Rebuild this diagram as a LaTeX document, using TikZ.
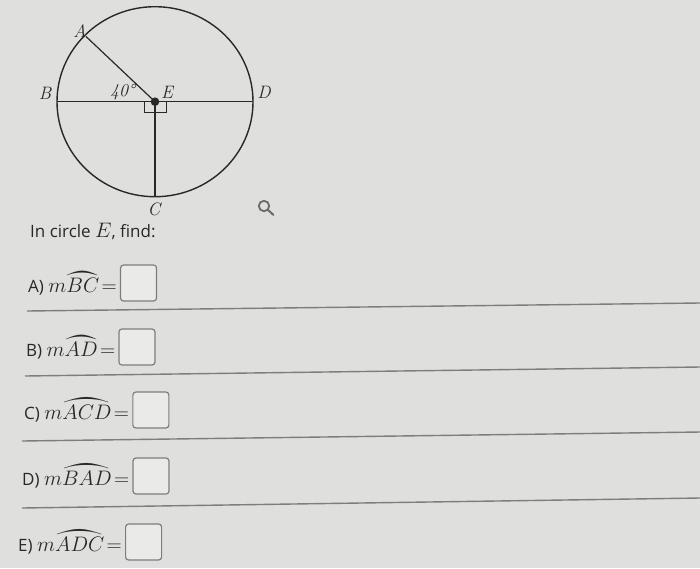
\RequirePackage{fix-cm}
\documentclass[tikz,border=0pt]{standalone}
\usepackage{amsmath}
\usepackage{yhmath}
\usepackage{fontspec}
\setsansfont{Open Sans}
\usepackage{xcolor}
\usepackage{tikz}
\usetikzlibrary{positioning}
\definecolor{paper}{RGB}{223,223,221}
\definecolor{ink}{RGB}{40,40,40}
\definecolor{rulegray}{RGB}{125,125,125}
\tikzset{ptlabel/.style={font=\fontsize{18}{20}\selectfont\itshape,text=ink,inner sep=0pt},
  rowlabel/.style={font=\sffamily\fontsize{17}{20}\selectfont,text=ink,inner sep=0pt,anchor=west},
  ansbox/.style={draw=rulegray,fill=white!35!paper,rounded corners=3pt,line width=1.2pt,inner sep=0pt,minimum size=36pt}}
\newcommand{\bigmath}[1]{{\fontsize{21}{24}\selectfont$#1$}}

\begin{document}
\begin{tikzpicture}[x=1pt,y=-1pt]
    \fill[paper] (0,0) rectangle (700,568);
    \useasboundingbox (0,0) rectangle (700,568);

    \coordinate (cE) at (155,101.7);
    \coordinate (ptA) at (86,36.5);
    \coordinate (ptB) at (57,101.7);
    \coordinate (ptC) at (155,196.7);
    \coordinate (ptD) at (253,101.7);
    \draw[ink,line width=1.4pt] (cE) ellipse [x radius=98,y radius=95];
    \draw[ink,line width=1.2pt] (ptA) -- (cE);
    \draw[ink,line width=1.2pt] (ptB) -- (ptD);
    \draw[ink,line width=1.1pt] (cE) -- (ptC);
    \draw[ink,line width=0.9pt] (144,101.7) rectangle (166.5,112);
    \fill[ink] (cE) circle (4.3);

    \node[ptlabel] (lblA) at (80,31) {A};
    \node[ptlabel] (lblB) at (45,93) {B};
    \node[ptlabel] (lblAng) at (122.5,92) {40°};
    \node[ptlabel] (lblE) at (167,92) {E};
    \node[ptlabel] (lblD) at (264,92) {D};
    \node[ptlabel] (lblC) at (154,209) {C};

    \draw[rulegray!85!black,line width=1.8pt] (264,206) circle (5.2);
    \draw[rulegray!85!black,line width=2pt,line cap=round] (267.8,209.8) -- (273.5,215);

    \node[rowlabel] (prompt) at (30,231) {In circle \bigmath{E}, find:};

    \foreach \idx/\arcname/\px/\py in {A/BC/28/283,B/AD/26/347,C/ACD/24/410,D/BAD/22/476,E/ADC/18/542} {
      \node[rowlabel] (row\idx) at (\px,\py) {\idx) \bigmath{m\wideparen{\arcname}\!=}};
      \node[ansbox,right=3pt of row\idx] (box\idx) {};
    }

    \foreach \xa/\ya/\yb in {27/311/303,25/376/367,22/441/432,22/508/498} {
      \draw[rulegray,line width=1.4pt] (\xa,\ya) -- (700,\yb);
    }
  \end{tikzpicture}
\end{document}
